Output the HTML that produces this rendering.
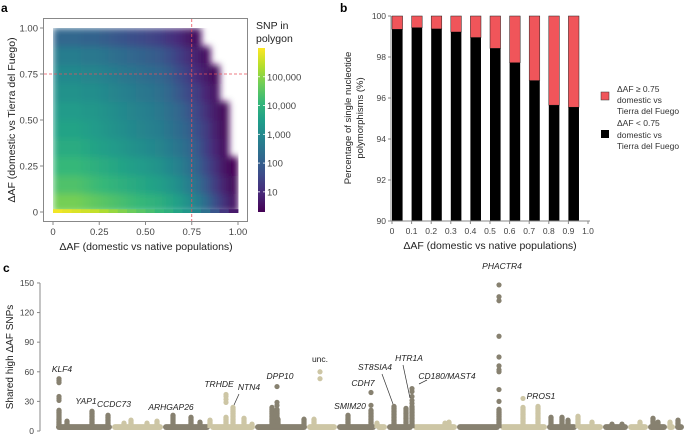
<!DOCTYPE html>
<html><head><meta charset="utf-8"><style>
html,body{margin:0;padding:0;background:#fff}
svg{display:block;font-family:"Liberation Sans",sans-serif}
</style></head><body>
<svg id="fig" width="685" height="437" viewBox="0 0 685 437">
<defs>
<filter id="blur" x="0" y="0" width="1" height="1"><feGaussianBlur stdDeviation="3.5" edgeMode="duplicate"/></filter>
<clipPath id="hmclip"><rect x="53" y="28" width="190" height="186"/></clipPath>
</defs>
<g id="pa"></g>
<g id="pb"></g>
<g id="pc"></g>
</svg>
<script>
// ---------- Panel a data ----------
const hmRows = [
[4.8,4.8,4.8,4.7,4.6,4.5,4.4,4.3,4.2,4.1,4.0,3.9,3.7,3.5,3.2,2.8,2.3,1.7,1.1,0.6],
[4.4,4.4,4.4,4.3,4.2,4.1,4.0,3.9,3.8,3.7,3.6,3.5,3.3,3.1,2.8,2.4,1.9,1.3,0.8,0.4],
[4.1,4.1,4.1,4.0,3.9,3.8,3.7,3.6,3.5,3.4,3.3,3.2,3.0,2.8,2.5,2.1,1.6,1.1,0.6,0.3],
[3.8,3.8,3.8,3.7,3.6,3.5,3.4,3.3,3.2,3.1,3.0,2.9,2.7,2.5,2.3,1.9,1.4,0.9,0.5,0],
[3.6,3.6,3.6,3.5,3.4,3.3,3.2,3.1,3.0,2.9,2.8,2.7,2.5,2.3,2.1,1.7,1.3,0.8,0.4,0],
[3.4,3.4,3.4,3.3,3.3,3.2,3.1,3.0,2.9,2.8,2.7,2.6,2.4,2.2,1.9,1.5,1.1,0.7,0.4,0],
[3.2,3.2,3.2,3.1,3.1,3.0,2.9,2.8,2.7,2.6,2.5,2.4,2.2,1.9,1.6,1.3,0.9,0.6,0,0],
[3.0,3.0,3.0,2.9,2.9,2.8,2.7,2.6,2.5,2.4,2.3,2.2,2.0,1.7,1.4,1.0,0.7,0.4,0,0],
[2.7,2.7,2.7,2.6,2.6,2.5,2.4,2.3,2.2,2.1,2.0,1.9,1.7,1.4,1.1,0.8,0.5,0,0,0],
[2.2,2.2,2.2,2.1,2.1,2.0,1.9,1.8,1.7,1.6,1.5,1.4,1.2,1.0,0.7,0.5,0,0,0,0]
];
const hmZeroRow = [5.9,5.8,5.7,5.6,5.5,5.3,5.1,4.9,4.7,4.5,4.3,4.1,3.9,3.6,3.3,2.9,2.4,1.8,1.2,0.7];
const aTicks = [0,0.25,0.5,0.75,1];
const aTickLabels = ["0","0.25","0.50","0.75","1.00"];
const cbTicks = [1,2,3,4,5];
const cbTickLabels = ["10","100","1,000","10,000","100,000"];
// ---------- Panel b data ----------
const bBins = [0,0.1,0.2,0.3,0.4,0.5,0.6,0.7,0.8,0.9];
const bBlack = [99.35,99.43,99.37,99.22,98.95,98.42,97.72,96.85,95.65,95.55];
const bYTicks = [90,92,94,96,98,100];
const bXTicks = [0,0.1,0.2,0.3,0.4,0.5,0.6,0.7,0.8,0.9,1.0];
const bXTickLabels = ["0","0.1","0.2","0.3","0.4","0.5","0.6","0.7","0.8","0.9","1.0"];
// ---------- Panel c data ----------
const chromStart = [16,72,123,170,215,267,297,336,347,373,417,460,507,537,563,588,608,627,635];
const chromEnd   = [72,123,170,215,267,297,336,347,373,417,460,507,537,563,588,608,627,635,644];
const peakPos = [
19, 27, 52, 68,
84, 91, 107, 117,
133, 151, 160, 170,
186, 193, 204, 212,
232, 237, 236, 238,
264, 274, 280, 308,
331, 337, 354, 366,
372, 405, 409,
459,
483, 498, 511, 522, 528, 538,
552, 572, 582, 600, 613, 618, 630, 638
];
const peakVals = [
[53,51,49,35,33,31,21,19,12,9,7],[10,7],[20,18,15,12,9,7],[16,14,11,8],
[8],[11,8],[8],[10,7],
[16],[14,11,8],[9],[11,8],
[37,35,32,29,14,12,9],[24,22,20,18,15,12,9],[13,9],[7],
[24,22,20,18,15,12,10],[45,29,26,22,18,14,10],[20,16,12],[12,8],
[12],[12,9],[60,53],[16,12,9],
[39,26,21,18,15,12,9],[8],[25,23,20,17,14,11,8],[23,18,13,9],
[43,40,35,31,28,25,22,19,16,13,10,7],[8],[9],
[148,136,132,96,75,66,62,60,42,30,22,19,17,15,12,9,7],
[33,24,22,17,13,10],[25,23,18,13,9],[14],[14,12,10,8],[11,8],[15,12,9],
[9],[7],[7],[9],[13,10],[9],[9],[11,8]
];
const cTicks = [0,30,60,90,120,150];
const geneLabels = ["KLF4","YAP1","CCDC73","ARHGAP26","TRHDE","NTN4","DPP10","unc.","SMIM20","CDH7","ST8SIA4","HTR1A","CD180/MAST4","PHACTR4","PROS1"];
const labelX = [62,86,114,171,219,249,280,320,350,363,375,409,447,502,541];
const labelY = [372,404,407,410,387,390,379,362,409,386,370,361,379,269,399];

const NS="http://www.w3.org/2000/svg";
function mk(parent,tag,attrs,text){const e=document.createElementNS(NS,tag);for(const k in attrs)e.setAttribute(k,attrs[k]);if(text!==undefined)e.textContent=text;parent.appendChild(e);return e;}
const vir=[[68,1,84],[72,40,120],[62,74,137],[49,104,142],[38,130,142],[31,158,137],[53,183,121],[109,205,89],[180,222,44],[253,231,37]];
function viridis(t){t=Math.max(0,Math.min(1,t));const p=t*(vir.length-1);const i=Math.min(vir.length-2,Math.floor(p));const f=p-i;const c=vir[i].map((v,k)=>Math.round(v+(vir[i+1][k]-v)*f));return `rgb(${c[0]},${c[1]},${c[2]})`;}
const logToT=v=>(v-0.3)/5.7;

// ===== Panel a =====
const pa=document.getElementById('pa');
const ax=v=>53+v*185, ay=v=>212-v*184;
let t=mk(pa,'text',{x:1,y:12,'font-size':12,'font-weight':'bold',fill:'#000'},'a');


let fr=mk(pa,'rect',{x:43.5,y:18.5,width:204,height:203,fill:'#fff',stroke:'#888','stroke-width':1});


const hmOuter=mk(pa,'g',{'clip-path':'url(#hmclip)'});
const hmG=mk(hmOuter,'g',{filter:'url(#blur)'});
const nC=20,nR=hmRows.length,cw=1/nC,ch=1/nR;
hmRows.forEach((row,ri)=>{row.forEach((v,ci)=>{if(v<=0)return;
 const r=mk(hmG,'rect',{x:ax(ci*cw),y:ay((ri+1)*ch),width:ax(cw)-ax(0)+0.4,height:ay(0)-ay(ch)+0.4,fill:viridis(logToT(v))});
 
 });});
hmZeroRow.forEach((v,ci)=>{const r=mk(hmOuter,'rect',{x:ax(ci*cw),y:ay(0.015),width:ax(cw)-ax(0)+0.4,height:ay(0)-ay(0.015)+1,fill:viridis(logToT(v))});
 
 });
let dl=mk(pa,'line',{x1:ax(0.75),x2:ax(0.75),y1:19,y2:221,stroke:'#e8505b','stroke-width':0.8,'stroke-dasharray':'3,2'});


dl=mk(pa,'line',{x1:44,x2:247,y1:ay(0.75),y2:ay(0.75),stroke:'#e8505b','stroke-width':0.8,'stroke-dasharray':'3,2'});


aTicks.forEach((v,i)=>{
 let l=mk(pa,'line',{x1:40,x2:43.5,y1:ay(v),y2:ay(v),stroke:'#888'});
 
 
 let tx=mk(pa,'text',{x:38,y:ay(v)+3.5,'font-size':9.5,fill:'#444','text-anchor':'end'},aTickLabels[i]);
 
 
 l=mk(pa,'line',{x1:ax(v),x2:ax(v),y1:221.5,y2:225,stroke:'#888'});
 
 
 tx=mk(pa,'text',{x:ax(v),y:235,'font-size':9.5,fill:'#444','text-anchor':'middle'},aTickLabels[i]);
 
 
});
t=mk(pa,'text',{x:146,y:250,'font-size':10.5,fill:'#222','text-anchor':'middle'},'ΔAF (domestic vs native populations)');


t=mk(pa,'text',{x:0,y:0,'font-size':10.5,fill:'#222','text-anchor':'middle',transform:'translate(15,120) rotate(-90)'},'ΔAF (domestic vs Tierra del Fuego)');


const defs=document.querySelector('defs');
const lg=mk(defs,'linearGradient',{id:'cbg',x1:0,y1:1,x2:0,y2:0});
vir.forEach((c,i)=>mk(lg,'stop',{offset:i/(vir.length-1),'stop-color':`rgb(${c[0]},${c[1]},${c[2]})`}));
let cb=mk(pa,'rect',{x:258,y:48,width:7,height:164,fill:'url(#cbg)'});


const cby=v=>212-(v-0.3)/5.7*164;
cbTicks.forEach((v,i)=>{
 let l=mk(pa,'line',{x1:258,x2:260,y1:cby(v),y2:cby(v),stroke:'#fff','stroke-width':0.8});
 
 
 l=mk(pa,'line',{x1:263,x2:265,y1:cby(v),y2:cby(v),stroke:'#fff','stroke-width':0.8});
 
 
 let tx=mk(pa,'text',{x:267,y:cby(v)+3.5,'font-size':9.5,fill:'#444'},cbTickLabels[i]);
 
 
});
t=mk(pa,'text',{x:256,y:29,'font-size':10.5,fill:'#222'},'SNP in');


t=mk(pa,'text',{x:256,y:42,'font-size':10.5,fill:'#222'},'polygon');



// ===== Panel b =====
const pb=document.getElementById('pb');
const bx=v=>392+v*196, by=v=>221-(v-90)/10*205;
t=mk(pb,'text',{x:340,y:12,'font-size':12,'font-weight':'bold',fill:'#000'},'b');


bBins.forEach((b,i)=>{
 const x0=bx(b),w=bx(0.054)-bx(0);
 let r=mk(pb,'rect',{x:x0,y:by(100),width:w,height:by(bBlack[i])-by(100),fill:'#f0555a',stroke:'#222','stroke-width':0.5});
 
 
 r=mk(pb,'rect',{x:x0,y:by(bBlack[i]),width:w,height:by(90)-by(bBlack[i]),fill:'#000'});
 
 
});
let axl=mk(pb,'line',{x1:391,x2:391,y1:16,y2:221,stroke:'#888'});


axl=mk(pb,'line',{x1:391,x2:590,y1:221,y2:221,stroke:'#888'});


bYTicks.forEach(v=>{
 let l=mk(pb,'line',{x1:388,x2:391,y1:by(v),y2:by(v),stroke:'#888'});
 
 
 let tx=mk(pb,'text',{x:386,y:by(v)+3,'font-size':8.5,fill:'#444','text-anchor':'end'},String(v));
 
 
});
bXTicks.forEach((v,i)=>{
 let l=mk(pb,'line',{x1:bx(v),x2:bx(v),y1:221,y2:224,stroke:'#888'});
 
 
 let tx=mk(pb,'text',{x:bx(v),y:234,'font-size':8.5,fill:'#444','text-anchor':'middle'},bXTickLabels[i]);
 
 
});
t=mk(pb,'text',{x:490,y:249,'font-size':10.5,fill:'#222','text-anchor':'middle'},'ΔAF (domestic vs native populations)');


t=mk(pb,'text',{x:0,y:0,'font-size':9.5,fill:'#222','text-anchor':'middle',transform:'translate(351,118) rotate(-90)'},'Percentage of single nucleotide');


t=mk(pb,'text',{x:0,y:0,'font-size':9.5,fill:'#222','text-anchor':'middle',transform:'translate(363,118) rotate(-90)'},'polymorphisms (%)');


let sw=mk(pb,'rect',{x:601,y:92,width:8,height:8,fill:'#f0555a',stroke:'#333','stroke-width':0.5});


sw=mk(pb,'rect',{x:601,y:130,width:8,height:8,fill:'#000'});


[["ΔAF ≥ 0.75",92],["domestic vs",103],["Tierra del Fuego",114],["ΔAF < 0.75",126],["domestic vs",138],["Tierra del Fuego",149]].forEach(([s,y])=>{
 const tx=mk(pb,'text',{x:617,y:y,'font-size':8.5,fill:'#333'},s);
 
 
});

// ===== Panel c =====
const pc=document.getElementById('pc');
const xc=p=>40+p, yc=v=>431-v*0.987;
const DARK='#878170',LIGHT='#cdc6a5';
function segColor(p){for(let i=0;i<chromStart.length;i++){if(p>=chromStart[i]&&p<chromEnd[i])return i%2===0?DARK:LIGHT;}return DARK;}
t=mk(pc,'text',{x:3,y:272,'font-size':12,'font-weight':'bold',fill:'#000'},'c');


axl=mk(pc,'line',{x1:40,x2:40,y1:yc(150),y2:yc(0),stroke:'#888'});


cTicks.forEach(v=>{
 let l=mk(pc,'line',{x1:37,x2:40,y1:yc(v),y2:yc(v),stroke:'#888'});
 
 
 let tx=mk(pc,'text',{x:34,y:yc(v)+3,'font-size':8.5,fill:'#444','text-anchor':'end'},String(v));
 
 
});
t=mk(pc,'text',{x:0,y:0,'font-size':10,fill:'#222','text-anchor':'middle',transform:'translate(13,357) rotate(-90)'},'Shared high ΔAF SNPs');


chromStart.forEach((s,i)=>{
 const r=mk(pc,'rect',{x:xc(s),y:yc(7),width:chromEnd[i]-s,height:yc(1)-yc(7),rx:3,fill:i%2===0?DARK:LIGHT});
 
 
});
peakPos.forEach((p,i)=>{
 const col=segColor(p);
 const vals=peakVals[i]||[];
 vals.forEach(v=>{
  const dot=mk(pc,'circle',{cx:xc(p),cy:yc(v),r:2.6,fill:col});
  
  
 });
 const low=vals.filter(v=>v<=25);
 if(low.length){const hi=Math.max.apply(null,low);
  const r=mk(pc,'rect',{x:xc(p)-2.6,y:yc(hi),width:5.2,height:yc(3)-yc(hi),fill:col});
  
  }
});
geneLabels.forEach((g,i)=>{
 const tx=mk(pc,'text',{x:labelX[i],y:labelY[i],'font-size':8.5,fill:'#222','text-anchor':'middle','font-style':(g==='unc.'?'normal':'italic')},g);
 
 
});
[[239,394,234,405],[382,374,393,404],[403,365,410,398],[419,384,427,380]].forEach(q=>{
 const l=mk(pc,'line',{x1:q[0],y1:q[1],x2:q[2],y2:q[3],stroke:'#333','stroke-width':0.7});
 
 
});
</script>
</body></html>
